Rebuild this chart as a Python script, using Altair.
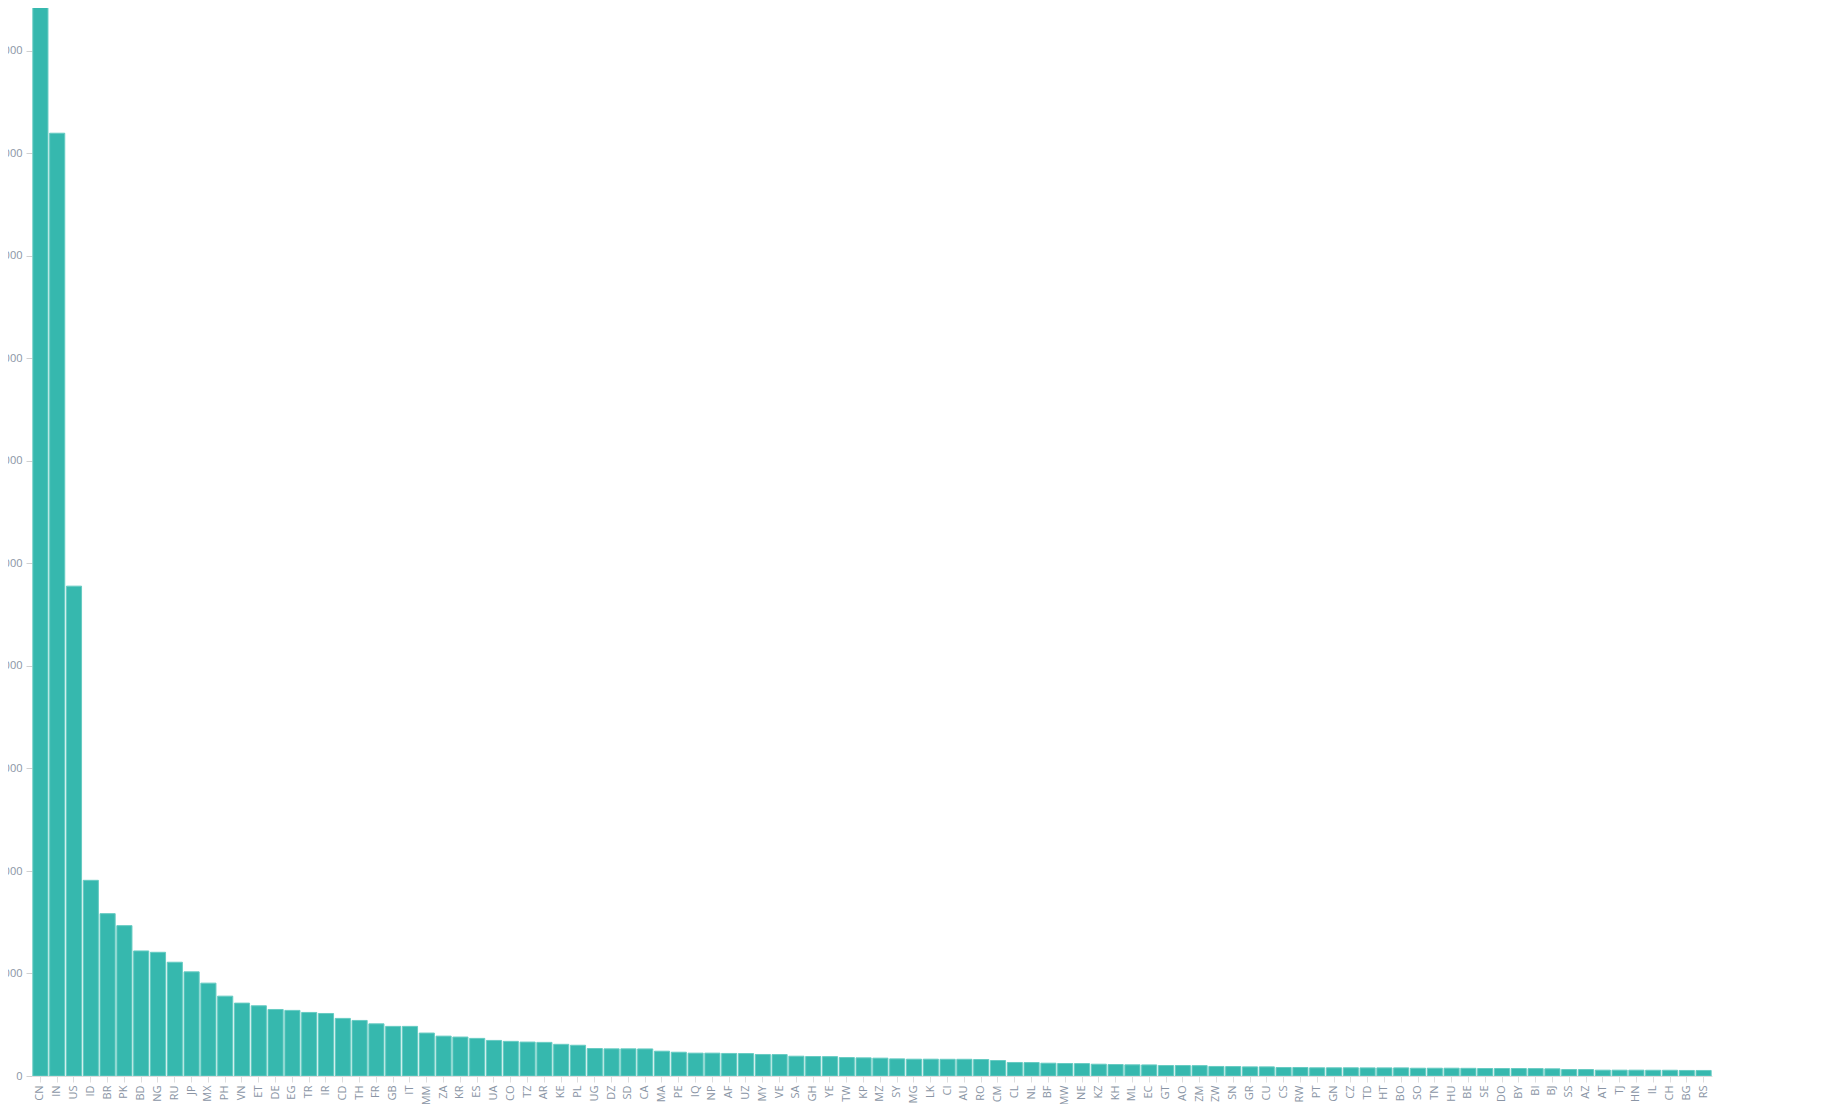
import altair as alt
import pandas as pd

codes = ["CN","IN","US","ID","BR","PK","BD","NG","RU","JP",
         "MX","PH","VN","ET","DE","EG","TR","IR","CD","TH",
         "FR","GB","IT","MM","ZA","KR","ES","UA","CO","TZ",
         "AR","KE","PL","UG","DZ","SD","CA","MA","PE","IQ",
         "NP","AF","UZ","MY","VE","SA","GH","YE","TW","KP",
         "MZ","SY","MG","LK","CI","AU","RO","CM","CL","NL",
         "BF","MW","NE","KZ","KH","ML","EC","GT","AO","ZM",
         "ZW","SN","GR","CU","CS","RW","PT","GN","CZ","TD",
         "HT","BO","SO","TN","HU","BE","SE","DO","BY","BI",
         "BJ","SS","AZ","AT","TJ","HN","IL","CH","BG","RS"]

values = [1290000, 919800, 477900, 190900, 158400, 146700, 122000, 120700, 111000, 101600,
          90600, 77900, 71100, 68500, 64900, 64000, 62000, 61000, 56200, 54200,
          50900, 48400, 48400, 41900, 38900, 38000, 36700, 34700, 33800, 33100,
          32800, 30900, 30000, 26800, 26500, 26500, 26400, 24200, 23200, 22300,
          22300, 22000, 21900, 21000, 20900, 19300, 19000, 18900, 18000, 17700,
          17400, 16700, 16400, 16400, 16300, 16300, 16100, 15100, 13200, 13100,
          12500, 12200, 12100, 11500, 11200, 10900, 10800, 10200, 10200, 10100,
          9300, 9200, 8900, 8900, 8300, 8300, 8000, 8000, 8000, 7900,
          7900, 7900, 7600, 7600, 7600, 7500, 7300, 7300, 7300, 7200,
          7000, 6300, 6300, 5700, 5700, 5700, 5600, 5600, 5400, 5400]

y_ticks = [0, 100000, 200000, 300000, 400000, 500000, 600000, 700000, 800000, 900000, 1000000]

df = pd.DataFrame({"country": codes, "value": values})

font = "Open Sans"
label_color = "#8a95a5"

chart = alt.Chart(df).mark_bar(
    color="#36b8ae", stroke="#66cbc2", strokeWidth=1, clip=True
).encode(
    x=alt.X("country:N", sort=codes, title=None,
            scale=alt.Scale(paddingInner=0.1, paddingOuter=0.05),
            axis=alt.Axis(labelAngle=270, labelFont=font, labelFontSize=11,
                          labelColor=label_color, tickColor="#dddddd", tickSize=6,
                          domainColor="#dddddd", labelPadding=3, grid=False)),
    y=alt.Y("value:Q", title=None,
            scale=alt.Scale(domain=[0, 1049756], nice=False, zero=True),
            axis=alt.Axis(values=y_ticks, format=",.0f", labelFont=font, labelFontSize=11,
                          labelColor=label_color, tickColor="#d0d0d0", tickSize=6,
                          domain=False, labelPadding=4, grid=False)),
).properties(
    width=1680, height=1076,
    autosize=alt.AutoSizeParams(type="none"),
    padding={"left": 24, "top": -8, "right": 20, "bottom": 28},
).configure_view(strokeWidth=0, stroke=None)

chart.save("out.html", embed_options={"renderer": "svg", "actions": False})
